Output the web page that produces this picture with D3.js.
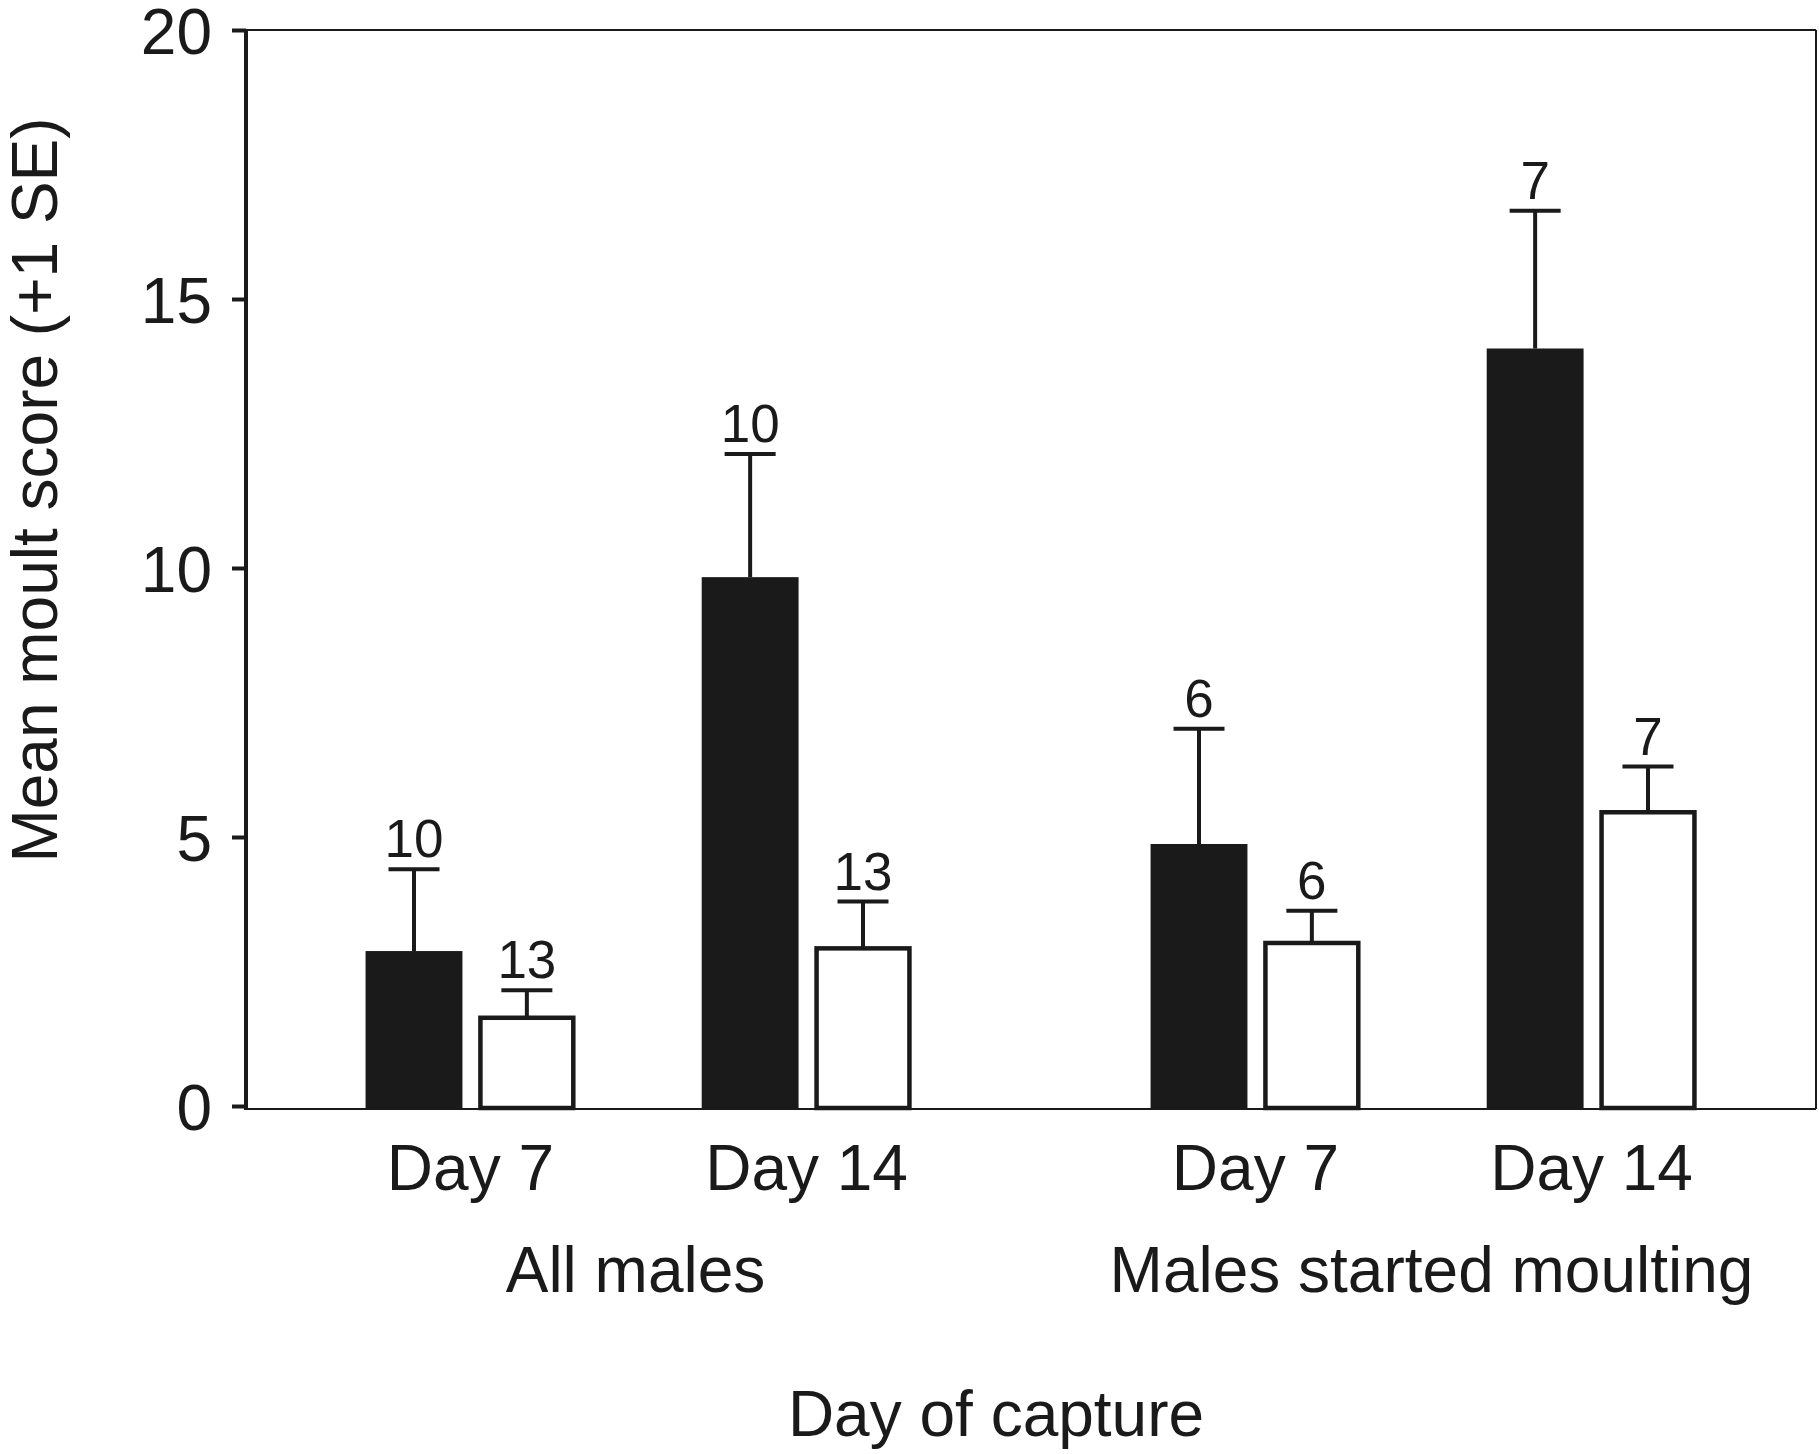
<!DOCTYPE html>
<html>
<head>
<meta charset="utf-8">
<script src="https://cdn.jsdelivr.net/npm/d3@7"></script>
<style>
  html, body { margin: 0; padding: 0; background: #fff; }
  svg text { font-family: "Liberation Sans", Arial, Helvetica, sans-serif; fill: #1a1a1a; }
</style>
</head>
<body>
<svg id="chart" width="1819" height="1454"></svg>
<script>
// ---- data ----
const groups = ["All males", "Males started moulting"];
const days = ["Day 7", "Day 14"];
const series = ["black", "white"];
// mean moult score, per group x day (in order)
const blackMeans = [2.88, 9.83, 4.87, 14.08];
const blackSE    = [1.52, 2.29, 2.14, 2.56];
const blackN     = ["10", "10", "6", "7"];
const whiteMeans = [1.64, 2.93, 3.03, 5.46];
const whiteSE    = [0.51, 0.87, 0.60, 0.85];
const whiteN     = ["13", "13", "6", "7"];
const yTicks = [0, 5, 10, 15, 20];
const yLabel = "Mean moult score (+1 SE)";
const xLabel = "Day of capture";

const rows = [];
groups.forEach((g, gi) => days.forEach((d, di) => {
  const i = gi * days.length + di;
  rows.push({group: g, day: d, series: "black", mean: blackMeans[i], se: blackSE[i], n: blackN[i]});
  rows.push({group: g, day: d, series: "white", mean: whiteMeans[i], se: whiteSE[i], n: whiteN[i]});
}));

// ---- layout ----
const plotLeft = 246, plotRight = 1816, plotTop = 30, plotBottom = 1106;
const ink = "#1a1a1a";
const svg = d3.select("#chart");

const y = d3.scaleLinear().domain([0, 20]).range([plotBottom, plotTop]);
const gx = d3.scaleBand().domain(groups).range([plotLeft, plotRight]).paddingInner(0.1436).paddingOuter(0.0718);
const dx = d3.scaleBand().domain(days).range([0, gx.bandwidth()]).padding(0);
const sx = d3.scaleBand().domain(series).range([0, dx.bandwidth()]).paddingInner(0.1416).paddingOuter(0.56);

const barX = r => gx(r.group) + dx(r.day) + sx(r.series);
const bw = sx.bandwidth();

// frame: top and right thin lines
svg.append("line").attr("x1", plotLeft).attr("x2", plotRight).attr("y1", plotTop).attr("y2", plotTop)
  .attr("stroke", ink).attr("stroke-width", 2);
svg.append("line").attr("x1", plotRight).attr("x2", plotRight).attr("y1", plotTop).attr("y2", plotBottom + 3)
  .attr("stroke", ink).attr("stroke-width", 2);

// bars
svg.append("g").selectAll("rect").data(rows.filter(r => r.series === "black")).join("rect")
  .attr("x", barX).attr("width", bw)
  .attr("y", r => y(r.mean)).attr("height", r => y(0) - y(r.mean) + 3)
  .attr("fill", ink);
svg.append("g").selectAll("rect").data(rows.filter(r => r.series === "white")).join("rect")
  .attr("x", r => barX(r) + 2).attr("width", bw - 4)
  .attr("y", r => y(r.mean)).attr("height", r => y(0) - y(r.mean) + 2)
  .attr("fill", "#fff").attr("stroke", ink).attr("stroke-width", 4.5);

// error bars
const eb = svg.append("g").attr("stroke", ink).attr("stroke-width", 4);
eb.selectAll("line.v").data(rows).join("line").attr("class", "v")
  .attr("x1", r => barX(r) + bw / 2).attr("x2", r => barX(r) + bw / 2)
  .attr("y1", r => y(r.mean)).attr("y2", r => y(r.mean + r.se));
eb.selectAll("line.c").data(rows).join("line").attr("class", "c")
  .attr("x1", r => barX(r) + bw / 2 - 25.5).attr("x2", r => barX(r) + bw / 2 + 25.5)
  .attr("y1", r => y(r.mean + r.se)).attr("y2", r => y(r.mean + r.se));

// n labels
svg.append("g").selectAll("text").data(rows).join("text")
  .attr("x", r => barX(r) + bw / 2).attr("y", r => y(r.mean + r.se) - 12)
  .attr("text-anchor", "middle").attr("font-size", 53)
  .text(r => r.n);

// bottom axis line
svg.append("line").attr("x1", plotLeft).attr("x2", plotRight).attr("y1", plotBottom + 3).attr("y2", plotBottom + 3)
  .attr("stroke", ink).attr("stroke-width", 2);

// y axis
const yAxis = d3.axisLeft(y).tickValues(yTicks).tickSize(14).tickPadding(20).tickFormat(d3.format("d"));
const ya = svg.append("g").attr("transform", `translate(${plotLeft},0)`).call(yAxis);
ya.select(".domain").attr("stroke", ink).attr("stroke-width", 4).attr("d", `M0,${plotTop}V${plotBottom + 4}`);
ya.selectAll(".tick line").attr("stroke", ink).attr("stroke-width", 4);
ya.selectAll(".tick text").attr("font-size", 64).attr("fill", ink)
  .attr("font-family", "'Liberation Sans', Arial, Helvetica, sans-serif").attr("dy", "0.36em");

// x labels: day per pair
const dayLabels = svg.append("g");
groups.forEach(g => days.forEach(d => {
  dayLabels.append("text")
    .attr("x", gx(g) + dx(d) + dx.bandwidth() / 2).attr("y", 1190)
    .attr("text-anchor", "middle").attr("font-size", 64).text(d);
}));
svg.append("g").selectAll("text").data(groups).join("text")
  .attr("x", g => gx(g) + gx.bandwidth() / 2 + (g === groups[1] ? 8 : -3)).attr("y", 1292)
  .attr("text-anchor", "middle").attr("font-size", 64).text(g => g);

// axis titles
svg.append("text").attr("x", 996).attr("y", 1436).attr("text-anchor", "middle")
  .attr("font-size", 64).text(xLabel);
svg.append("text").attr("transform", "translate(57,490) rotate(-90)")
  .attr("text-anchor", "middle").attr("font-size", 64).text(yLabel);
</script>
</body>
</html>
